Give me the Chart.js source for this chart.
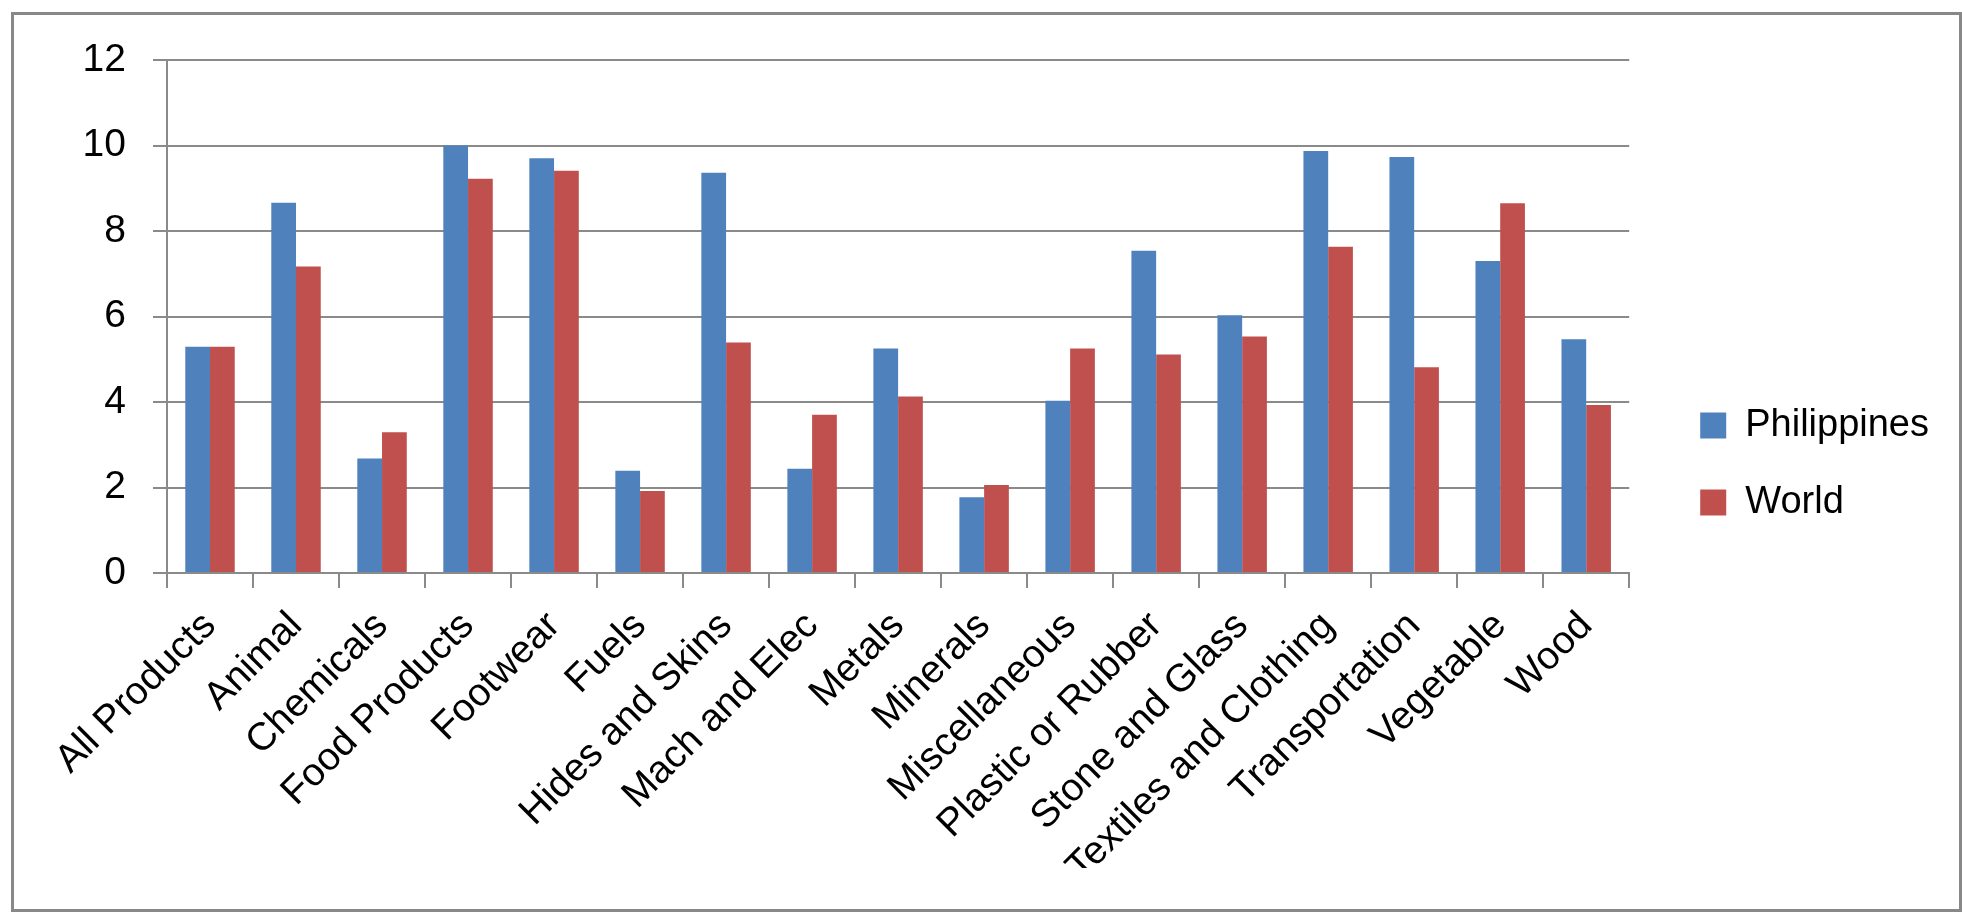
<!DOCTYPE html>
<html lang="en">
<head>
  <meta charset="UTF-8" />
  <title>Philippines vs World</title>
  <script src="https://cdn.jsdelivr.net/npm/chart.js"></script>
  <style>
    html, body { margin: 0; padding: 0; background: #fff; overflow: hidden; }
    .grafico { position: relative; width: 1962px; height: 912px; }
    .moldura {
      position: absolute; left: 11px; top: 12px; width: 1951px; height: 900px;
      border: 3px solid #888; box-sizing: border-box; pointer-events: none;
    }
  </style>
</head>
<body>
  <div class="grafico">
    <canvas id="graficoProdutos"></canvas>
    <div class="moldura"></div>
  </div>

  <script>
    const categorias = ['All Products', 'Animal', 'Chemicals', 'Food Products', 'Footwear', 'Fuels',
      'Hides and Skins', 'Mach and Elec', 'Metals', 'Minerals', 'Miscellaneous', 'Plastic or Rubber',
      'Stone and Glass', 'Textiles and Clothing', 'Transportation', 'Vegetable', 'Wood'];
    const philippines = [5.29, 8.66, 2.68, 10.0, 9.70, 2.39, 9.36, 2.44, 5.25, 1.77, 4.03, 7.54, 6.03, 9.87, 9.73, 7.30, 5.47];
    const world = [5.29, 7.17, 3.29, 9.22, 9.41, 1.92, 5.39, 3.70, 4.13, 2.06, 5.25, 5.11, 5.53, 7.63, 4.81, 8.65, 3.93];
    const ticksY = [0, 2, 4, 6, 8, 10, 12];

    const cinza = '#8a8a8a';
    const fonte = { family: '"Liberation Sans", Arial, sans-serif', size: 39 };

    // empurra a legenda para a direita sem mexer na area do grafico
    const deslocaLegenda = {
      id: 'deslocaLegenda',
      afterLayout(chart) {
        chart.legend.left += 32;
        chart.legend.right += 32;
      }
    };

    const ctx = document.getElementById('graficoProdutos');
    new Chart(ctx, {
      type: 'bar',
      data: {
        labels: categorias,
        datasets: [
          { label: 'Philippines', data: philippines, backgroundColor: '#4F81BD' },
          { label: 'World', data: world, backgroundColor: '#C0504D' }
        ]
      },
      options: {
        responsive: true,
        maintainAspectRatio: false,
        animation: false,
        categoryPercentage: 0.575,
        barPercentage: 1.0,
        layout: { padding: { left: 13, top: 60, right: 55, bottom: 44 } },
        plugins: {
          tooltip: { enabled: false },
          legend: {
            position: 'right',
            labels: {
              font: { family: fonte.family, size: 38 },
              color: '#000',
              boxWidth: 26,
              boxHeight: 26,
              padding: 39
            }
          }
        },
        scales: {
          x: {
            grid: { drawOnChartArea: false, color: cinza, lineWidth: 2, tickLength: 15 },
            border: { color: cinza, width: 2 },
            ticks: {
              font: fonte, color: '#000', minRotation: 45, maxRotation: 45,
              autoSkip: false, padding: 15
            },
            afterFit(s) { s.height = 912 - 44 - 573; }
          },
          y: {
            min: 0,
            max: 12,
            afterBuildTicks(s) { s.ticks = ticksY.map(v => ({ value: v })); },
            grid: { color: cinza, lineWidth: 2, tickLength: 14 },
            border: { color: cinza, width: 2 },
            ticks: { font: fonte, color: '#000', padding: 27 },
            afterFit(s) { s.width = 154; }
          }
        }
      },
      plugins: [deslocaLegenda]
    });
  </script>
</body>
</html>
